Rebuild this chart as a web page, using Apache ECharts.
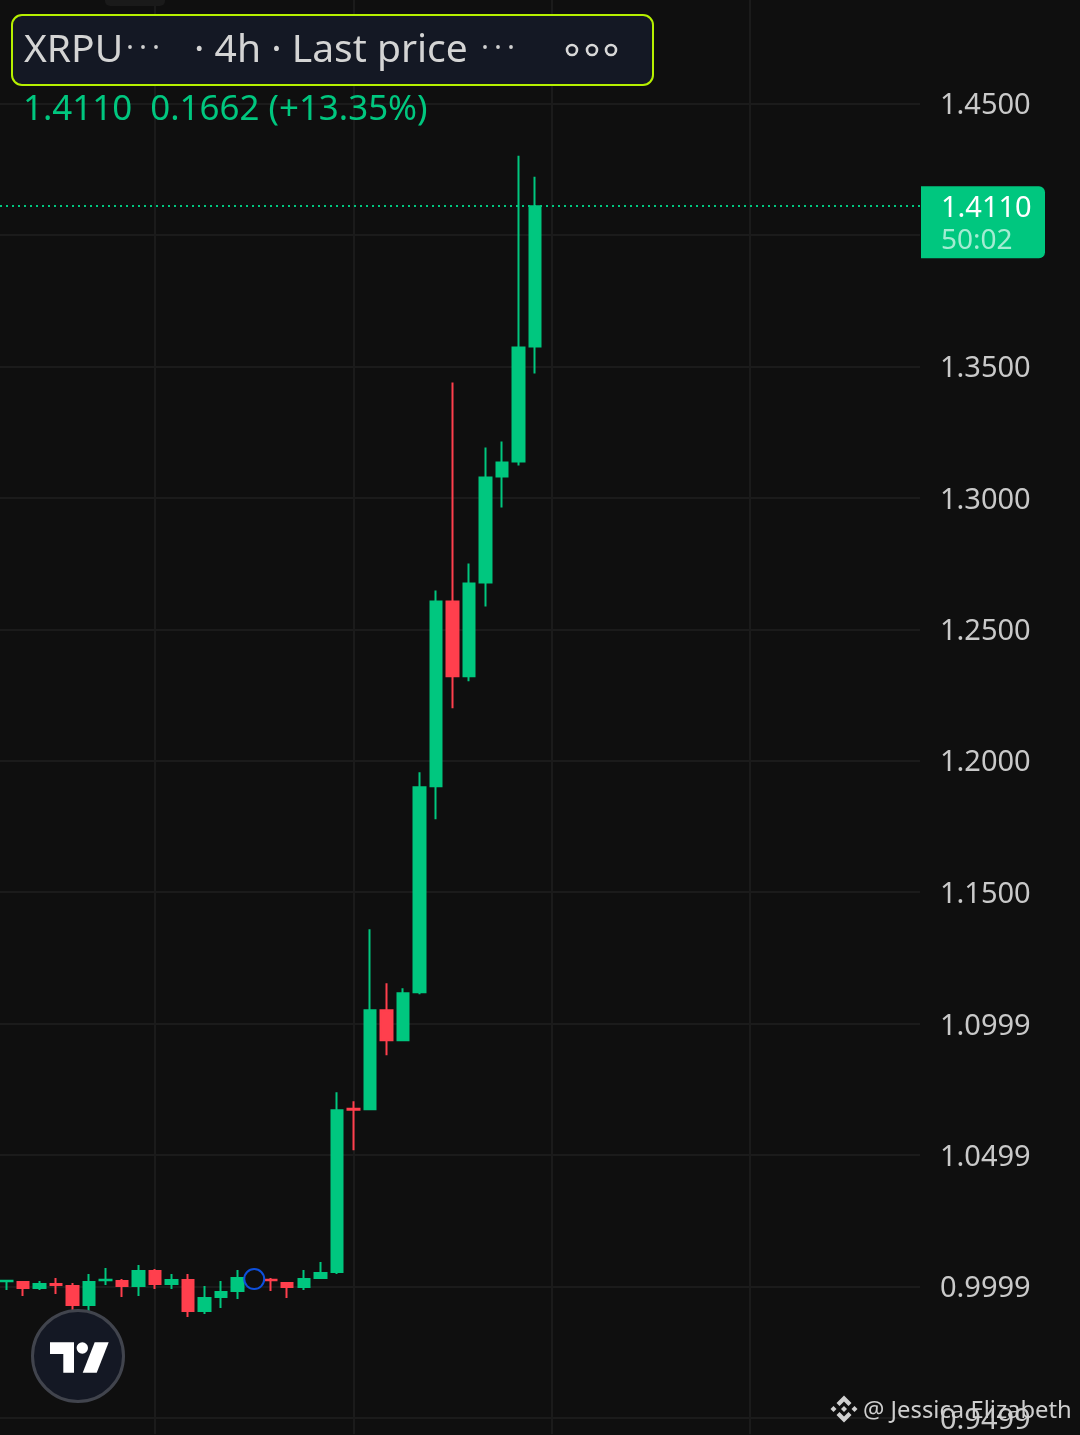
<!DOCTYPE html>
<html><head><meta charset="utf-8">
<style>html,body{margin:0;padding:0;background:#0f0f0f}#c{width:1080px;height:1435px}</style>
<script src="https://cdn.jsdelivr.net/npm/echarts@6/dist/echarts.min.js"></script>
</head><body><div id="c"></div>
<script>
// Candle values: [open, close, low, high]
const candles = [
[1.0019,1.0021,0.99859,1.00239],[1.00163,0.99935,0.99631,1.0020],[0.99935,1.00087,0.99859,1.00201],
[1.00087,1.00049,0.99707,1.00315],[1.00011,0.99289,0.98947,1.00125],[0.99289,1.00163,0.98795,1.00467],
[1.0023,1.0025,1.00049,1.00695],[1.00201,1.00011,0.99593,1.00277],[1.00011,1.00581,0.99631,1.00809],
[1.00581,1.00087,0.99897,1.00657],[1.00087,1.00239,0.99897,1.00467],[1.00239,0.99061,0.98833,1.00467],
[0.99061,0.99555,0.98947,1.00011],[0.99593,0.99783,0.99175,1.00201],[0.99821,1.00315,0.99517,1.00619],
[1.0026,1.0030,1.0020,1.0035],[1.0025,1.0023,0.99821,1.00315],[1.00125,0.99973,0.99555,1.00163],
[0.99973,1.00277,0.99859,1.00619],[1.00315,1.00505,1.00277,1.00923],[1.00543,1.06704,1.0047,1.07388],
[1.0676,1.0672,1.05182,1.07046],[1.06742,1.10507,1.06704,1.13587],[1.10507,1.09366,1.08795,1.11533],
[1.09366,1.11153,1.09328,1.11344],[1.11191,1.18987,1.11115,1.19558],[1.19025,1.26061,1.1777,1.26479],
[1.26061,1.23209,1.21992,1.3439],[1.23209,1.26745,1.23019,1.27506],[1.26783,1.30777,1.25871,1.31918],
[1.30815,1.31347,1.29636,1.32146],[1.31385,1.35721,1.31233,1.43022],[1.35759,1.4110,1.34732,1.42224]
];
const candleIndex = candles.map((_, i) => i);
const priceTicks = [0.9499,0.9999,1.0499,1.0999,1.15,1.2,1.25,1.3,1.35,1.4,1.45];
const timeTicks = [9,21,33,45];
const lastPrice = 1.4110;
const countdown = '50:02';
const markerIndex = 15;
const markerPrice = 1.00277;

const GREEN='#00C77F', RED='#FF3F4D', GRID='#1b1b1b', TXT='#c9c9c9', FONT='"Noto Sans"';
const chart = echarts.init(document.getElementById('c'));

function t(x,y,text,size,fill){return {type:'text',z:100,x,y,style:{text,fill,font:size+'px '+FONT,textVerticalAlign:'middle'}};}
function poly(points,fill){return {type:'polygon',z:101,shape:{points},style:{fill}};}
const ring=x=>({type:'circle',z:101,shape:{cx:x,cy:50,r:5},style:{fill:'transparent',stroke:'#d8d8d8',lineWidth:2.6}});
const dots=(x)=>[0,1,2].map(i=>({type:'circle',z:101,shape:{cx:x+i*13,cy:47,r:1.9},style:{fill:'#d0d0d0'}}));
const bx=844,by=1409,bc='#d0d0d0';

chart.setOption({
  animation:false,
  backgroundColor:'#0f0f0f',
  grid:{left:0,top:0,width:920,height:1435,containLabel:false},
  xAxis:{type:'value',min:-0.398,max:55.325,
    axisLine:{show:false},axisTick:{show:false,customValues:timeTicks},axisLabel:{show:false,customValues:timeTicks},
    splitLine:{show:true,lineStyle:{color:GRID,width:2}}},
  yAxis:{type:'value',position:'right',min:0.94372,max:1.48945,
    axisLine:{show:false},
    axisTick:{show:false,customValues:priceTicks},
    axisLabel:{show:true,customValues:priceTicks,margin:20,color:TXT,fontFamily:FONT,fontSize:29,
      showMinLabel:true,showMaxLabel:true,hideOverlap:false,formatter:v=>'{v|'+(+v).toFixed(4)+'}',
      rich:{v:{color:TXT,fontFamily:FONT,fontSize:29,padding:[5,0,0,0]}}},
    splitLine:{show:true,lineStyle:{color:GRID,width:2}}},
  series:[{
    type:'candlestick',z:5,barWidth:12,clip:false,
    encode:{x:0,y:[1,2,3,4]},
    data:candles.map((c,i)=>[candleIndex[i],...c]),
    itemStyle:{color:GREEN,color0:RED,borderColor:GREEN,borderColor0:RED,borderWidth:2},
    markLine:{silent:true,symbol:'none',animation:false,z:6,precision:4,
      lineStyle:{color:GREEN,type:[2,4],width:2},
      data:[{yAxis:lastPrice}],
      label:{show:true,position:'end',distance:0,offset:[1,16],
        formatter:'{a|'+lastPrice.toFixed(4)+'}\n{b|'+countdown+'}',
        backgroundColor:GREEN,borderRadius:[0,6,6,0],padding:[6,14,2,20],align:'left',width:90,
        rich:{a:{fontFamily:FONT,fontSize:29,color:'#ffffff',lineHeight:34},
              b:{fontFamily:FONT,fontSize:28,color:'#a3ecd2',lineHeight:30}}}},
    markPoint:{silent:true,animation:false,symbol:'circle',symbolSize:20,z:7,
      itemStyle:{color:'#0f0f0f',borderColor:'#0E50DC',borderWidth:2},label:{show:false},
      data:[{coord:[markerIndex,markerPrice]}]}
  }],
  graphic:[
    {type:'rect',z:99,shape:{x:105,y:-8,width:60,height:14,r:5},style:{fill:'#1a1a1a'}},
    {type:'rect',z:100,shape:{x:12,y:15,width:641,height:70,r:10},style:{fill:'#141824',stroke:'#B6F000',lineWidth:2}},
    t(24,51,'XRPU',39,'#d4d4d4'),...dots(130),
    t(194,51,'· 4h · Last price',39,'#d4d4d4'),...dots(485),
    ring(572),ring(592),ring(611),
    t(23,110,'1.4110  0.1662 (+13.35%)',34.9,GREEN),
    {type:'circle',z:100,shape:{cx:78,cy:1356,r:45.5},style:{fill:'#141824',stroke:'#41444d',lineWidth:3}},
    poly([[50,1342.3],[74,1342.3],[74,1372.7],[63.3,1372.7],[63.3,1354],[50,1354]],'#fff'),
    {type:'circle',z:101,shape:{cx:82.3,cy:1348,r:5.7},style:{fill:'#fff'}},
    poly([[94.7,1342.3],[108.7,1342.3],[96.7,1372.7],[82.7,1372.7]],'#fff'),
    poly([[bx,by-13.5],[bx+7.5,by-6],[bx+4.5,by-3],[bx,by-7.5],[bx-4.5,by-3],[bx-7.5,by-6]],bc),
    poly([[bx,by+13.5],[bx+7.5,by+6],[bx+4.5,by+3],[bx,by+7.5],[bx-4.5,by+3],[bx-7.5,by+6]],bc),
    poly([[bx-13.5,by],[bx-10.5,by-3],[bx-7.5,by],[bx-10.5,by+3]],bc),
    poly([[bx+13.5,by],[bx+10.5,by-3],[bx+7.5,by],[bx+10.5,by+3]],bc),
    poly([[bx,by-3],[bx+3,by],[bx,by+3],[bx-3,by]],bc),
    t(863,1411,'@ Jessica Elizabeth',23.8,'#cfcfcf')
  ]
});
</script></body></html>
